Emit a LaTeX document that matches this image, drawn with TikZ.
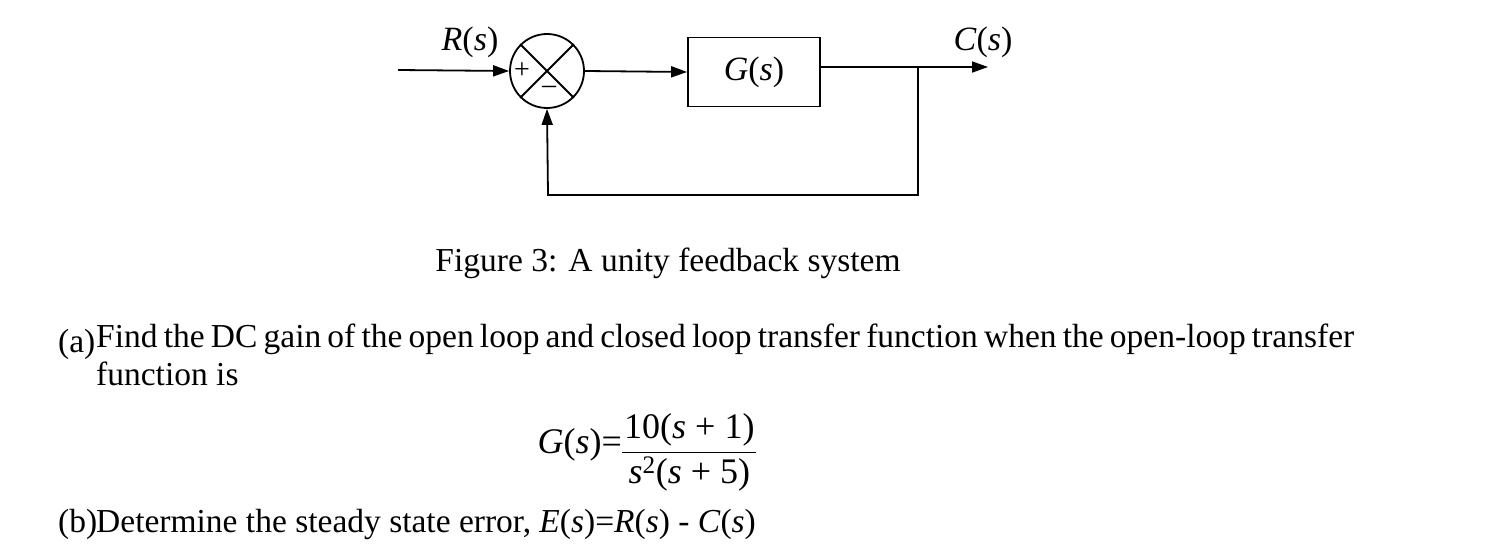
\documentclass[tikz,border=0pt]{standalone}
\usepackage{fontspec}
\setmainfont{Liberation Serif}
\usetikzlibrary{arrows.meta}
\begin{document}
\begin{tikzpicture}[x=1pt,y=-1pt,
  ln/.style={line width=1.8pt},
  arr/.style={ln,-{Triangle[length=16pt,width=11pt]}},
  lbl/.style={font=\fontsize{34}{38}\selectfont, inner sep=0pt},
  txt/.style={font=\fontsize{33.5}{38}\selectfont, inner sep=0pt, anchor=base west}]
\useasboundingbox (0,0) rectangle (1490,556);
\coordinate (in) at (398,70);
\node[circle,draw,ln,minimum size=74pt,inner sep=0pt] (sum) at (547,71) {};
\draw[ln] (sum.45) -- (sum.225) (sum.135) -- (sum.315);
\node[lbl,font=\fontsize{28}{30}\selectfont] at (522,71) {+};
\node[lbl,font=\fontsize{28}{30}\selectfont] at (549,90) {–};
\node[draw,ln,minimum width=132pt,minimum height=69pt,inner sep=0pt,lbl] (G) at (754,72) {\textit{G}(\textit{s})};
\coordinate (out) at (988,67);
\coordinate (tap) at (918,67);
\coordinate (bl) at (548,195);
\coordinate (br) at (918,195);
\draw[arr] (in) -- (sum.west);
\draw[arr] (sum.east) -- (G.west);
\draw[arr] (G.east |- out) -- (out);
\draw[arr] (tap) -- (br) -- (bl) -- (sum.south);
\node[lbl] at (470,42) {\textit{R}(\textit{s})};
\node[lbl] at (983,42) {\textit{C}(\textit{s})};
\node[lbl,font=\fontsize{33.5}{38}\selectfont] (cap) at (668,263) {Figure 3: A unity feedback system};
\node[txt] (la) at (58,352) {(a)};
\node[txt,anchor=north west,text width=1258pt,align=justify] (pa) at (96,324) {Find the DC gain of the open loop and closed loop transfer function when the open-loop transfer function is};
\node[inner sep=0pt,font=\fontsize{36}{40}\selectfont,anchor=east] (f) at (622,445) {\textit{G}(\textit{s})=};
\node[inner sep=0pt,font=\fontsize{36}{40}\selectfont,anchor=west] (fr) at (622,452) {\setlength{\tabcolsep}{2pt}\renewcommand{\arraystretch}{1.1}\begin{tabular}{c}10(\textit{s} + 1)\\\hline \textit{s}\textsuperscript{2}(\textit{s} + 5)\end{tabular}};
\node[txt] (lb) at (58,532) {(b)};
\node[txt] (pb) at (96,532) {Determine the steady state error, \textit{E}(\textit{s})=\textit{R}(\textit{s}) - \textit{C}(\textit{s})};
\end{tikzpicture}
\end{document}
